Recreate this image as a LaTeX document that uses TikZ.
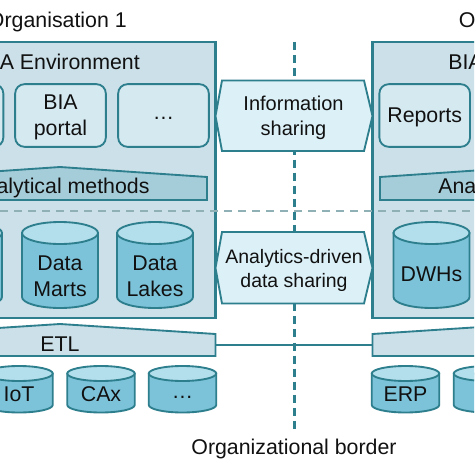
\documentclass[tikz,border=0pt]{standalone}
\usepackage{fontspec}
\setmainfont{Liberation Sans}
\usepackage{tikz}
\definecolor{rim}{HTML}{2E7F8E}
\definecolor{envfill}{HTML}{CBE0E8}
\definecolor{boxfill}{HTML}{D5E9F1}
\definecolor{share}{HTML}{DCF0F7}
\definecolor{method}{HTML}{A5CDD9}
\definecolor{dbbody}{HTML}{7CC3DA}
\definecolor{dbtop}{HTML}{B3DEEC}
\definecolor{splitgray}{HTML}{8FB0B5}
\definecolor{ink}{HTML}{111111}
% centre x, top y, bottom y, half width, half height of the lid
\newcommand{\drum}[5]{%
  \draw[plate,fill=dbbody] ({#1-#4},{#2+#5})--({#1-#4},{#3-#5})
    arc[start angle=180,end angle=360,x radius=#4*0.75pt,y radius=#5*0.75pt]
    --({#1+#4},{#2+#5})--cycle;
  \draw[plate,fill=dbtop] (#1,{#2+#5}) ellipse[x radius=#4*0.75pt,y radius=#5*0.75pt];
}

\begin{document}
\begin{tikzpicture}[x=0.75pt,y=-0.75pt,
  txt/.style={text=ink,font=\fontsize{16}{19.5}\selectfont,align=center,inner sep=0pt},
  sharetxt/.style={txt,font=\fontsize{15}{18.75}\selectfont},
  env/.style={draw=rim,fill=envfill,line width=1.6pt},
  card/.style={draw=rim,fill=boxfill,line width=1.4pt,rounded corners=7pt,
    minimum width=68pt,minimum height=47pt},
  plate/.style={draw=rim,line width=1.4pt},
  hexa/.style={draw=rim,fill=share,line width=1.4pt},
  orgline/.style={line width=1.9pt,rim,dash pattern=on 6pt off 3.8pt},
  split/.style={line width=2.2pt,splitgray,dash pattern=on 6pt off 4.5pt}]
\useasboundingbox (0,0) rectangle (474,474);
\clip (0,0) rectangle (474,474);
\fill[white] (0,0) rectangle (474,474);
% organisations
\node[txt,anchor=base east] (orgone) at (127,28) {Organisation 1};
\node[txt,anchor=base west] (orgtwo) at (458.5,28) {O};
\coordinate (envoneNE) at (215.5,42);
\coordinate (envoneSW) at (-20,318);
\coordinate (envtwoNW) at (372.5,42);
\coordinate (envtwoSE) at (495,318);
% border line
\coordinate (bordertop) at (294.3,42);
\coordinate (borderend) at (294.3,432);
\draw[orgline] (bordertop)--(borderend);
\draw[env] (envoneSW) rectangle (envoneNE);
\draw[env] (envtwoNW) rectangle (envtwoSE);
\node[txt,anchor=base east] (bia) at (140,70) {BIA Environment};
\node[txt,anchor=base west] (biatwo) at (448,70) {BIA};
% cards
\node[card] (tool) at (-42,115.5) {};
\node[card] (portal) at (60.5,115.5) {};
\node[card] (more) at (163.5,115.5) {};
\node[card] (reports) at (424.7,115.5) {};
\node[txt] (portaltxt) at (60.5,117.5) {BIA\\portal};
\node[txt] (moretxt) at (163.5,118) {\dots};
\node[txt] (reportstxt) at (424.7,117) {Reports};
% methods
\draw[plate,fill=method] (-87,177)--(60,167)--(207,177)--(207,200)--(-87,200)--cycle;
\draw[plate,fill=method] (380,177)--(527,167)--(674,177)--(674,200)--(380,200)--cycle;
\node[txt] (methods) at (60,187.5) {Analytical methods};
\node[txt,anchor=base west] (methodstwo) at (438,193.5) {Ana};
% sharing
\draw[hexa] (215.5,116)--(222,80.5)--(364,80.5)--(372.5,116)--(364,151)--(222,151)--cycle;
\draw[hexa] (215.5,268)--(222,232)--(364,232)--(372.5,268)--(364,303.5)--(222,303.5)--cycle;
\node[sharetxt] (info) at (293.5,118) {Information\\sharing};
\node[sharetxt,font=\fontsize{14.6}{18}\selectfont] (analytics) at (294,270) {Analytics-driven\\data sharing};
% stores
\drum{-36}{222}{308}{38}{11}
\drum{60}{222}{308}{38}{11}
\drum{155}{222}{308}{38}{11}
\drum{431.5}{222}{308}{38}{11}
\node[txt] (martstxt) at (60,276) {Data\\Marts};
\node[txt] (lakestxt) at (155,276) {Data\\Lakes};
\node[txt] (dwhstxt) at (431.5,274) {DWHs};
% ETL
\draw[plate,fill=envfill] (-95,334)--(60,324)--(215.5,334)--(215.5,356)--(-95,356)--cycle;
\draw[plate,fill=envfill] (372.5,334)--(527,324)--(682,334)--(682,356)--(372.5,356)--cycle;
\node[txt] (etl) at (60,344.5) {ETL};
\coordinate (etlone) at (215.5,345);
\coordinate (etltwo) at (372.5,345);
\draw[plate] (etlone)--(etltwo);
% sources
\drum{19}{366}{412.5}{33.7}{7.5}
\drum{101}{366}{412.5}{33.7}{7.5}
\drum{182.5}{366}{412.5}{33.7}{7.5}
\drum{405.5}{366}{412.5}{33.7}{7.5}
\drum{487.5}{366}{412.5}{33.7}{7.5}
\node[txt] (iottxt) at (19,394) {IoT};
\node[txt] (caxtxt) at (101,394) {CAx};
\node[txt] (dotstxt) at (182.5,397) {\dots};
\node[txt] (erptxt) at (405.5,394) {ERP};
% horizontal split
\coordinate (splitL) at (0,211);
\coordinate (splitR) at (474,211);
\draw[split] (splitL)--(splitR);
\node[txt,anchor=base] (orgborder) at (294,454) {Organizational border};
\end{tikzpicture}
\end{document}
